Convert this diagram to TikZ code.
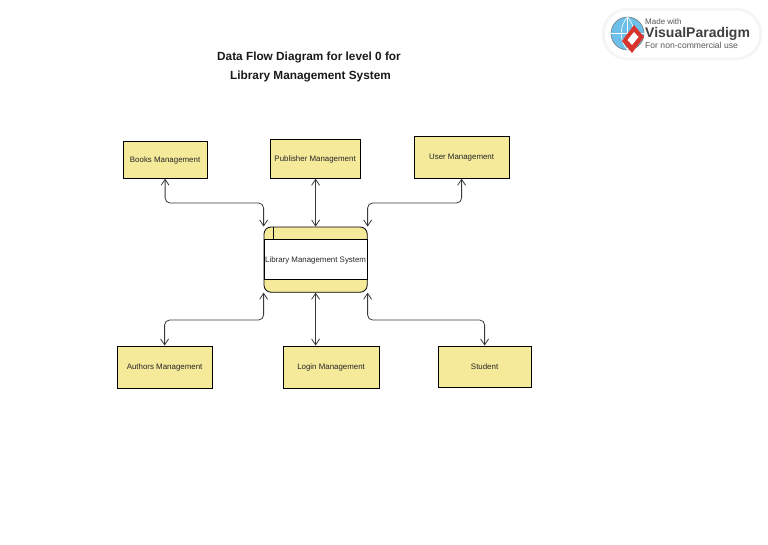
\documentclass[tikz,border=0pt]{standalone}
\usepackage{fontspec}
\setmainfont{Liberation Sans}
\usetikzlibrary{arrows.meta,calc}
\definecolor{boxyellow}{HTML}{F5E99A}
\definecolor{flowgray}{HTML}{3A3A3A}
\definecolor{vpblue}{HTML}{6BBFE8}
\definecolor{vpred}{HTML}{D8342C}
\begin{document}
\begin{tikzpicture}[
    x=1pt, y=-1pt,
    entity/.style={rectangle, draw=black, fill=boxyellow, line width=0.8pt, inner sep=0pt, font=\fontsize{7.9}{9}\selectfont, text=black!85, text depth=0pt},
    flow/.style={{Straight Barb[length=6pt,width=8pt]}-{Straight Barb[length=6pt,width=8pt]}, draw=flowgray, line width=0.8pt, rounded corners=5pt},
    heading/.style={font=\bfseries\fontsize{11.8}{13}\selectfont, text=black!90, inner sep=0pt},
    badgetext/.style={inner sep=0pt, anchor=west, text=black!65}
]
    \useasboundingbox (0,0) rectangle (768,544);

    % Title
    \node[heading] (title1) at (309,57) {Data Flow Diagram for level 0 for};
    \node[heading] (title2) at (310.5,76) {Library Management System};

    % Top row
    \node[entity, minimum width=84.2pt, minimum height=37.2pt] (books) at (165.1,159.6) {Books Management};
    \node[entity, minimum width=90.2pt, minimum height=39.2pt] (publisher) at (315.1,158.6) {Publisher Management};
    \node[entity, minimum width=95.2pt, minimum height=42.2pt] (user) at (461.6,157.1) {User Management};

    % Process in the middle
    \node[entity, rounded corners=7pt, minimum width=103.2pt, minimum height=65.2pt] (sys) at (315.6,259.6) {};
    \draw[line width=0.8pt, fill=white] ([xshift=0.4pt]sys.west |- 0,239.6) rectangle ([xshift=-0.4pt]sys.east |- 0,279.6);
    \node[inner sep=0pt, font=\fontsize{7.9}{9}\selectfont, text=black!85, text depth=0pt] (sysbody) at (315.6,260) {Library Management System};
    \draw[line width=0.8pt] (273.8,227) -- (273.8,239.6);

    % Bottom row
    \node[entity, minimum width=95.2pt, minimum height=42.2pt] (authors) at (164.6,367.1) {Authors Management};
    \node[entity, minimum width=96.2pt, minimum height=42.2pt] (login) at (331.1,367.1) {Login Management};
    \node[entity, minimum width=93.2pt, minimum height=41.2pt] (student) at (484.6,366.6) {Student};

    % Connectors
    \coordinate (upperbus) at (316,203);
    \coordinate (lowerbus) at (316,320);
    \draw[flow] (books.south) -- (books.south |- upperbus) -- (sys.north west |- upperbus) -- (sys.north west);
    \draw[flow] (sys.north) -- (publisher.south -| sys.north);
    \draw[flow] (user.south) -- (user.south |- upperbus) -- (sys.north east |- upperbus) -- (sys.north east);
    \draw[flow] (authors.north) -- (authors.north |- lowerbus) -- (sys.south west |- lowerbus) -- (sys.south west);
    \draw[flow] (sys.south) -- (login.north -| sys.south);
    \draw[flow] (student.north) -- (student.north |- lowerbus) -- (sys.south east |- lowerbus) -- (sys.south east);

    % Badge in the corner
    \fill[black!4, rounded corners=25pt] (602,8) rectangle (762,60);
    \node[rectangle, fill=white, rounded corners=23pt, minimum width=154pt, minimum height=47pt, inner sep=0pt] (badge) at (682,34) {};
    \node[circle, fill=vpblue, draw=black!55, line width=0.5pt, minimum size=33pt, inner sep=0pt] (globe) at (627.5,33.5) {};
    \draw[white, line width=0.6pt] (globe.north) -- (globe.south) (globe.west) -- (globe.east)
        (globe.north) to[bend left=40] (globe.south) (globe.north) to[bend right=40] (globe.south);
    \fill[vpred] (634,25) -- (644,37) -- (632,53) -- (622,41) -- cycle;
    \fill[white] (634,32) -- (638.5,37) -- (632,45) -- (627.5,40) -- cycle;
    \node[badgetext, font=\fontsize{8}{9}\selectfont] (madewith) at (645,21.5) {Made with};
    \node[badgetext, font=\bfseries\fontsize{14}{15}\selectfont, text=black!75] (vpname) at (645,33.5) {VisualParadigm};
    \node[badgetext, font=\fontsize{8.6}{9}\selectfont] (usage) at (645,45.5) {For non-commercial use};
\end{tikzpicture}
\end{document}
